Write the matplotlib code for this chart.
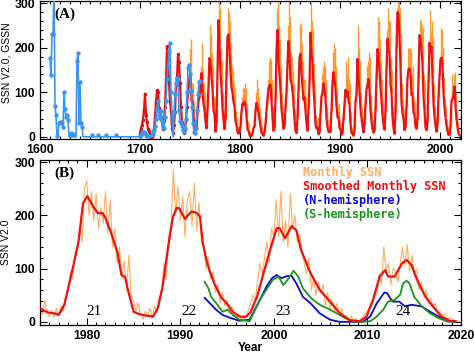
import matplotlib
matplotlib.use("Agg")
import matplotlib.pyplot as plt
from matplotlib.ticker import MultipleLocator

# ---------------- Panel A data ----------------
gssn_start = 1610
gssn_vals = [
    178, 138, 230, 230, 340, 70, 48, 2, 0, 32,
    33, 32, 33, 22, 101, 62, 44, 48, 38, 0,
    3, 8, 4, 6, 3, 0, 0, 170, 189, 32,
    122, 32, 22, 0, 0, 0, 0, 0, 0, 0,
    0, 0, 4, 0, 0, 0, 0, 0, 3, 0,
    0, 0, 0, 0, 0, 0, 4, 0, 0, 0,
    0, 0, 0, 0, 0, 0, 3, 0, 0, 0,
    0, 0, 0, 0, 0, 0, 0, 0, 0, 0,
    0, 0, 0, 0, 0, 0, 0, 0, 0, 0,
    2, 5, 8, 10, 10, 8, 5, 2, 0, 2,
    0, 0, 3, 8, 15, 25, 40, 60, 80, 50,
    43, 58, 35, 22, 20, 45, 80, 130, 160, 193,
    211, 100, 50, 0, 55, 95, 120, 133, 130, 60,
    36, 30, 25, 15, 10, 20, 40, 100, 155, 161,
    140, 103, 66, 30, 10, 8, 20, 60, 95, 122, 125,
]
gssn_years = [gssn_start + i for i in range(len(gssn_vals))]

early_start = 1700
early_ssn = [
    8.3, 18.3, 26.7, 38.3, 60.0, 96.7, 48.3, 33.3, 16.7, 13.3,
    5.0, 0.0, 0.0, 3.3, 18.3, 45.0, 78.3, 105.0, 100.0, 65.0,
    46.7, 43.3, 36.7, 18.3, 35.0, 66.7, 130.0, 203.3, 171.7, 121.7,
    78.3, 58.3, 18.3, 8.3, 26.7, 56.7, 116.7, 135.0, 185.0, 168.3,
    121.7, 66.7, 33.3, 26.7, 8.3, 18.3, 36.7, 66.7, 100.0,
]
early_years = [early_start + i for i in range(len(early_ssn))]

smooth_start = 1749
smooth_ssn = [
    134.8, 139.0, 79.5, 79.7, 51.2, 20.3, 16.0, 17.0, 54.0, 79.3,
    90.0, 104.8, 143.2, 102.0, 75.2, 60.7, 34.8, 19.0, 63.0, 116.3,
    176.8, 168.0, 136.0, 110.8, 58.0, 51.0, 11.7, 33.0, 154.2, 262.0,
    209.8, 141.3, 113.5, 64.2, 38.0, 17.0, 40.2, 138.2, 225.0, 230.0,
    196.8, 149.8, 111.0, 100.0, 78.2, 68.3, 35.5, 26.7, 10.7, 6.8,
    11.3, 24.2, 56.7, 75.0, 71.8, 79.2, 70.3, 46.8, 16.8, 13.5,
    4.2, 0.0, 2.3, 8.3, 20.3, 23.2, 59.0, 76.3, 68.3, 52.9,
    38.5, 24.2, 9.2, 6.3, 2.2, 11.4, 28.2, 59.9, 83.0, 108.5,
    115.2, 117.4, 80.8, 44.3, 13.4, 19.5, 85.8, 192.7, 240.0, 168.7,
    143.0, 105.5, 63.3, 40.3, 18.1, 25.1, 65.8, 102.7, 166.3, 215.0,
    182.5, 126.3, 122.0, 102.7, 74.1, 39.0, 12.7, 8.2, 43.4, 104.4,
    178.3, 186.0, 146.6, 112.1, 83.5, 89.2, 57.8, 30.7, 13.9, 62.8,
    123.6, 234.0, 185.3, 169.2, 110.1, 74.5, 28.3, 18.9, 20.7, 5.7,
    10.0, 53.7, 90.5, 99.0, 120.0, 105.8, 86.3, 42.4, 21.8, 11.2,
    10.4, 11.8, 59.5, 121.7, 145.0, 130.0, 106.6, 69.4, 43.8, 44.4,
    20.2, 15.7, 4.6, 8.5, 40.8, 70.1, 105.5, 90.1, 102.8, 80.9,
    73.2, 30.9, 9.5, 6.0, 2.4, 16.1, 79.0, 95.0, 175.0, 134.6,
    105.7, 62.7, 43.5, 23.7, 9.7, 27.9, 74.0, 106.5, 114.7, 130.0,
    108.2, 59.4, 35.1, 18.6, 9.2, 14.6, 60.2, 132.8, 197.0, 182.6,
    148.0, 113.0, 79.2, 50.8, 27.1, 16.1, 55.3, 154.3, 220.0, 193.0,
    190.7, 118.9, 98.3, 45.0, 20.1, 6.6, 54.2, 200.7, 280.0, 275.0,
    225.1, 159.0, 76.4, 53.4, 39.9, 15.0, 22.0, 66.8, 132.9, 152.0,
    153.0, 148.0, 94.4, 97.6, 54.1, 49.2, 22.5, 18.4, 39.3, 131.0,
    228.0, 218.9, 198.9, 162.4, 91.0, 60.5, 20.6, 14.8, 33.9, 123.0,
    211.1, 191.8, 203.3, 133.0, 76.1, 44.9, 25.1, 11.6, 28.9, 88.3,
    136.3, 173.9, 178.0, 163.6, 99.3, 65.3, 45.8, 24.7, 12.6, 4.2,
    4.8, 24.9, 80.8, 84.5, 94.0, 113.3, 69.8, 39.8, 21.7, 7.0,
    3.6,
]
monthly_max = [
    200, 220, 120, 120, 80, 40, 30, 35, 90, 130,
    140, 160, 210, 150, 120, 100, 60, 40, 100, 170,
    250, 230, 190, 160, 90, 90, 25, 60, 230, 400,
    290, 200, 170, 100, 60, 35, 70, 200, 290, 280,
    260, 210, 160, 150, 120, 110, 60, 45, 25, 15,
    25, 45, 90, 110, 110, 120, 110, 75, 35, 30,
    12, 5, 8, 20, 40, 45, 100, 130, 110, 90,
    65, 45, 25, 15, 8, 25, 50, 95, 130, 170,
    180, 175, 130, 70, 30, 40, 140, 290, 330, 250,
    220, 160, 100, 70, 35, 45, 100, 160, 250, 310,
    270, 190, 180, 150, 120, 65, 28, 20, 75, 160,
    250, 255, 210, 170, 130, 130, 90, 50, 30, 100,
    190, 300, 260, 240, 165, 120, 50, 40, 45, 15,
    22, 90, 140, 160, 170, 160, 130, 70, 40, 25,
    25, 25, 100, 190, 210, 200, 160, 110, 70, 75,
    40, 30, 12, 20, 70, 110, 170, 140, 180, 130,
    120, 55, 22, 15, 8, 35, 120, 150, 250, 200,
    170, 100, 70, 45, 22, 50, 120, 160, 170, 190,
    180, 95, 60, 38, 20, 30, 100, 200, 270, 260,
    220, 170, 130, 85, 50, 35, 95, 240, 290, 260,
    260, 180, 150, 70, 40, 16, 100, 290, 360, 330,
    290, 230, 120, 85, 65, 30, 40, 105, 200, 200,
    200, 195, 140, 160, 90, 80, 45, 35, 70, 200,
    265, 260, 250, 245, 140, 125, 40, 30, 55, 180,
    285, 235, 260, 225, 120, 70, 45, 20, 55, 120,
    175, 245, 240, 200, 135, 85, 70, 40, 25, 12,
    15, 55, 140, 110, 140, 145, 100, 60, 35, 15,
    6,
]
smooth_years = [smooth_start + i + 0.5 for i in range(len(smooth_ssn))]

# ---------------- Panel B data ----------------
b_month_start = 1975.0
b_monthly = [
    28, 14, 40, 18, 10, 22, 8, 25, 12, 30, 20, 45,
    60, 95, 80, 130, 140, 175, 150, 250, 265, 200, 245, 190,
    240, 175, 215, 185, 245, 165, 230, 140, 175, 110, 140, 80,
    115, 60, 125, 50, 40, 20, 35, 12, 5, 20, 10, 25,
    8, 30, 18, 45, 55, 110, 80, 160, 180, 285, 200, 255,
    190, 235, 160, 230, 245, 180, 260, 170, 225, 150, 140, 100,
    120, 80, 95, 55, 70, 35, 55, 30, 40, 15, 30, 12,
    8, 15, 4, 12, 10, 20, 35, 50, 40, 75, 110, 90,
    120, 150, 110, 175, 160, 230, 160, 245, 150, 190, 140, 240,
    175, 200, 150, 165, 135, 110, 90, 120, 60, 80, 50, 75,
    55, 70, 30, 55, 25, 40, 20, 35, 15, 25, 8, 12,
    4, 12, 2, 6, 1, 5, 8, 15, 20, 30, 40, 55,
    50, 90, 70, 140, 95, 110, 70, 100, 95, 75, 110, 140,
    105, 145, 95, 125, 90, 100, 60, 75, 55, 60, 35, 45,
    30, 35, 15, 20, 12, 15, 5, 8, 6, 3, 2, 1,
]
b_month_years = [b_month_start + i / 4 for i in range(len(b_monthly))]

b_smooth_years = [1975.0, 1975.5, 1976.0, 1976.5, 1977.0, 1977.6, 1978.3, 1979.1,
                  1979.6, 1980.05, 1980.7, 1981.2, 1981.7, 1982.0, 1982.6, 1983.3,
                  1983.7, 1984.1, 1984.4, 1985.0, 1985.5, 1986.2, 1987.1, 1987.6,
                  1988.1, 1988.7, 1989.2, 1989.6, 1989.9, 1990.5, 1990.8, 1991.2,
                  1991.7, 1992.1, 1992.4, 1992.8, 1993.1, 1993.7, 1994.4, 1994.9,
                  1995.6, 1996.3, 1997.0, 1997.5, 1998.2, 1998.9, 1999.6, 2000.3,
                  2000.6, 2001.2, 2001.9, 2002.4, 2002.9, 2003.9, 2004.9, 2006.0,
                  2007.0, 2008.1, 2009.2, 2009.9, 2010.6, 2011.3, 2011.9, 2012.2,
                  2012.9, 2013.7, 2014.2, 2014.7, 2015.3, 2016.2, 2017.0, 2017.9,
                  2018.8, 2019.4]
b_smooth_vals = [26, 20, 17, 16, 13, 32, 85, 148,
                 223, 236, 216, 204, 204, 195, 167, 129,
                 88, 84, 60, 19, 15, 12, 10, 26,
                 66, 141, 197, 214, 213, 193, 200, 207,
                 205, 198, 148, 116, 97, 69, 45, 36,
                 19, 10, 9, 18, 47, 92, 135, 176,
                 176, 157, 180, 172, 135, 92, 60, 38,
                 17, 3, 1, 10, 41, 85, 97, 85,
                 85, 110, 116, 107, 79, 47, 29, 10,
                 2, 1]

n_years = [1992.6, 1993.1, 1993.8, 1994.5, 1995.4, 1996.3, 1997.4, 1998.5, 1999.2,
           1999.8, 2000.3, 2000.8, 2001.4, 2001.9, 2002.4, 2003.1, 2003.9, 2004.9,
           2006.0, 2007.0, 2008.1, 2009.5, 2010.3, 2011.0, 2011.8, 2012.1, 2012.4,
           2012.7, 2013.4, 2014.0, 2014.7, 2015.8, 2016.7, 2017.6, 2018.5, 2019.4]
n_vals = [45, 36, 23, 13, 7, 2, 4, 41, 66,
          82, 88, 82, 86, 86, 72, 47, 35, 16,
          4, 0, 0, 0, 10, 35, 55, 54, 45,
          38, 38, 29, 32, 29, 19, 10, 1, 0]

s_years = [1992.6, 1993.0, 1993.3, 1993.8, 1994.5, 1995.1, 1995.6, 1996.3, 1997.4,
           1998.5, 1999.4, 1999.9, 2000.5, 2001.0, 2001.6, 2002.1, 2002.6, 2003.1,
           2004.0, 2004.9, 2006.0, 2006.7, 2007.6, 2008.7, 2009.5, 2010.3, 2011.0,
           2011.7, 2012.2, 2012.9, 2013.5, 2013.8, 2014.2, 2014.5, 2015.0, 2015.8,
           2016.7, 2017.6, 2018.5, 2019.4]
s_vals = [75, 63, 47, 36, 19, 23, 13, 4, 1,
          41, 66, 79, 85, 69, 82, 96, 85, 63,
          44, 32, 23, 16, 7, 0, 0, 1, 10,
          23, 38, 41, 51, 72, 77, 72, 47, 29,
          16, 7, 1, 0]

cycle_labels = ["21", "22", "23", "24"]
cycle_pos = [1980.8, 1990.9, 2001.0, 2013.8]
legend_texts = ["Monthly SSN", "Smoothed Monthly SSN", "(N-hemisphere)", "(S-hemisphere)"]

# ---------------- styling ----------------
ORANGE_A = "#FF9A30"
ORANGE_B = "#FFAE5E"
RED = "#F01010"
LBLUE = "#3A97F0"
NBLUE = "#0A0ACF"
GREEN = "#1A961A"

tickfont = {"family": "Liberation Sans", "weight": "bold", "size": 8.8}

fig = plt.figure(figsize=(4.74, 3.54), dpi=100)
axA = fig.add_axes([40 / 474, (354 - 139) / 354, 421 / 474, 138 / 354])
axB = fig.add_axes([40 / 474, (354 - 325) / 354, 421 / 474, 165 / 354])

def style(ax):
    ax.tick_params(which="both", direction="in", top=True, right=True, width=0.8)
    ax.tick_params(which="major", length=5)
    ax.tick_params(which="minor", length=2.5)
    for lab in ax.get_xticklabels() + ax.get_yticklabels():
        lab.set_fontfamily(tickfont["family"])
        lab.set_fontweight(tickfont["weight"])
        lab.set_fontsize(tickfont["size"])
    for s in ax.spines.values():
        s.set_linewidth(0.9)

# Panel A
axA.vlines(smooth_years, smooth_ssn, monthly_max, color=ORANGE_A, lw=1.0, zorder=1)
axA.plot(early_years + smooth_years, early_ssn + smooth_ssn, color=RED, lw=1.6, zorder=2)
axA.plot(early_years, early_ssn, "o", color=RED, ms=2.2, mec="#B01010", mew=0.3, zorder=3)
axA.plot(gssn_years, gssn_vals, color=LBLUE, lw=1.2, zorder=4,
         marker="o", ms=2.2, markevery=[i for i, v in enumerate(gssn_vals) if v > 0])
axA.set_xlim(1600, 2021)
axA.set_ylim(-5, 305)
axA.xaxis.set_major_locator(MultipleLocator(100))
axA.xaxis.set_minor_locator(MultipleLocator(10))
axA.yaxis.set_major_locator(MultipleLocator(100))
axA.yaxis.set_minor_locator(MultipleLocator(20))
axA.set_ylabel("SSN V2.0, GSSN", family="Liberation Sans", fontsize=7.5)
axA.yaxis.set_label_coords(-0.068, 0.55)
axA.text(0.035, 0.905, "(A)", transform=axA.transAxes, family="Liberation Serif",
         weight="bold", fontsize=11, va="center", ha="left")
style(axA)

# Panel B
axB.plot(b_month_years, b_monthly, color=ORANGE_B, lw=0.8, zorder=1)
axB.plot(n_years, n_vals, color=NBLUE, lw=1.3, zorder=2)
axB.plot(s_years, s_vals, color=GREEN, lw=1.3, zorder=3)
axB.plot(b_smooth_years, b_smooth_vals, color=RED, lw=1.6, zorder=4)
axB.set_xlim(1975, 2020)
axB.set_ylim(-6, 304)
axB.xaxis.set_major_locator(MultipleLocator(10))
axB.xaxis.set_minor_locator(MultipleLocator(1))
axB.yaxis.set_major_locator(MultipleLocator(100))
axB.yaxis.set_minor_locator(MultipleLocator(20))
axB.set_ylabel("SSN V2.0", family="Liberation Sans", fontsize=7.5)
axB.yaxis.set_label_coords(-0.068, 0.5)
axB.set_xlabel("Year", family="Liberation Sans", weight="bold", fontsize=8.5, labelpad=0)
axB.text(0.033, 0.921, "(B)", transform=axB.transAxes, family="Liberation Serif",
         weight="bold", fontsize=11, va="center", ha="left")
for lab, xp in zip(cycle_labels, cycle_pos):
    axB.text(xp, 19, lab, family="Liberation Serif", fontsize=11, ha="center", va="center")
leg_colors = [ORANGE_B, RED, NBLUE, GREEN]
for i, (t, c) in enumerate(zip(legend_texts, leg_colors)):
    axB.text(0.625, 0.927 - i * 0.085, t, transform=axB.transAxes, color=c,
             family="DejaVu Sans Mono", weight="bold", fontsize=8.6, ha="left", va="center")
style(axB)

fig.savefig("out.png", dpi=100)
